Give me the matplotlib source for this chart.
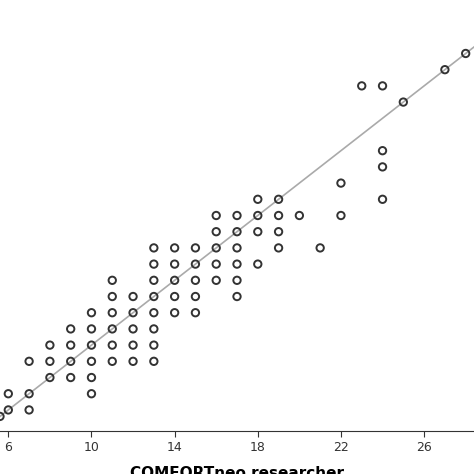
import matplotlib
matplotlib.use("Agg")
import matplotlib.pyplot as plt
import numpy as np

xs = [6,6, 7,7,7, 8,8,8, 9,9,9,9, 10,10,10,10,10,10, 11,11,11,11,11,11,
      12,12,12,12,12, 13,13,13,13,13,13,13,13, 14,14,14,14,14, 15,15,15,15,15,
      16,16,16,16,16, 17,17,17,17,17,17, 18,18,18,18, 19,19,19,19, 20, 21, 22,22,
      23, 24,24,24,24, 25, 27, 28, 5.6]
ys = [7,6, 9,7,6, 10,9,8, 11,10,9,8, 12,11,10,9,8,7, 14,13,12,11,10,9,
      13,12,11,10,9, 16,15,14,13,12,11,10,9, 16,15,14,13,12, 16,15,14,13,12,
      18,17,16,15,14, 18,17,16,15,14,13, 19,18,17,15, 19,18,17,16, 18, 16, 20,18,
      26, 26,22,21,19, 25, 27, 28, 5.6]
xticks = [6,10,14,18,22,26]
line_slope, line_intercept = 1.0, 0.0

fig = plt.figure(figsize=(4.74,4.74), dpi=100)
ax = fig.add_axes([0, 1-431/474, 1, 431/474])
ax.set_xlim(5.6, 28.4)
ax.set_ylim(4.7, 31.3)
xa = np.array(xs); ya = np.array(ys)
lx = np.array([5.0, 29.0])
ax.plot(lx, line_intercept + line_slope*lx, color='#aaaaaa', lw=1.2, zorder=1)
ax.scatter(xa, ya, s=28, facecolors='none', edgecolors='#333333', linewidths=1.4, zorder=2)
for s in ['top','right','left']:
    ax.spines[s].set_visible(False)
ax.spines['bottom'].set_color('#333333')
ax.set_yticks([])
ax.set_xticks(xticks)
ax.tick_params(axis='x', direction='out', length=4, labelsize=9, colors='#333333')
ax.set_xlabel('COMFORTneo researcher', fontsize=11, fontweight='bold', labelpad=8)
fig.savefig('out.png', dpi=100)
